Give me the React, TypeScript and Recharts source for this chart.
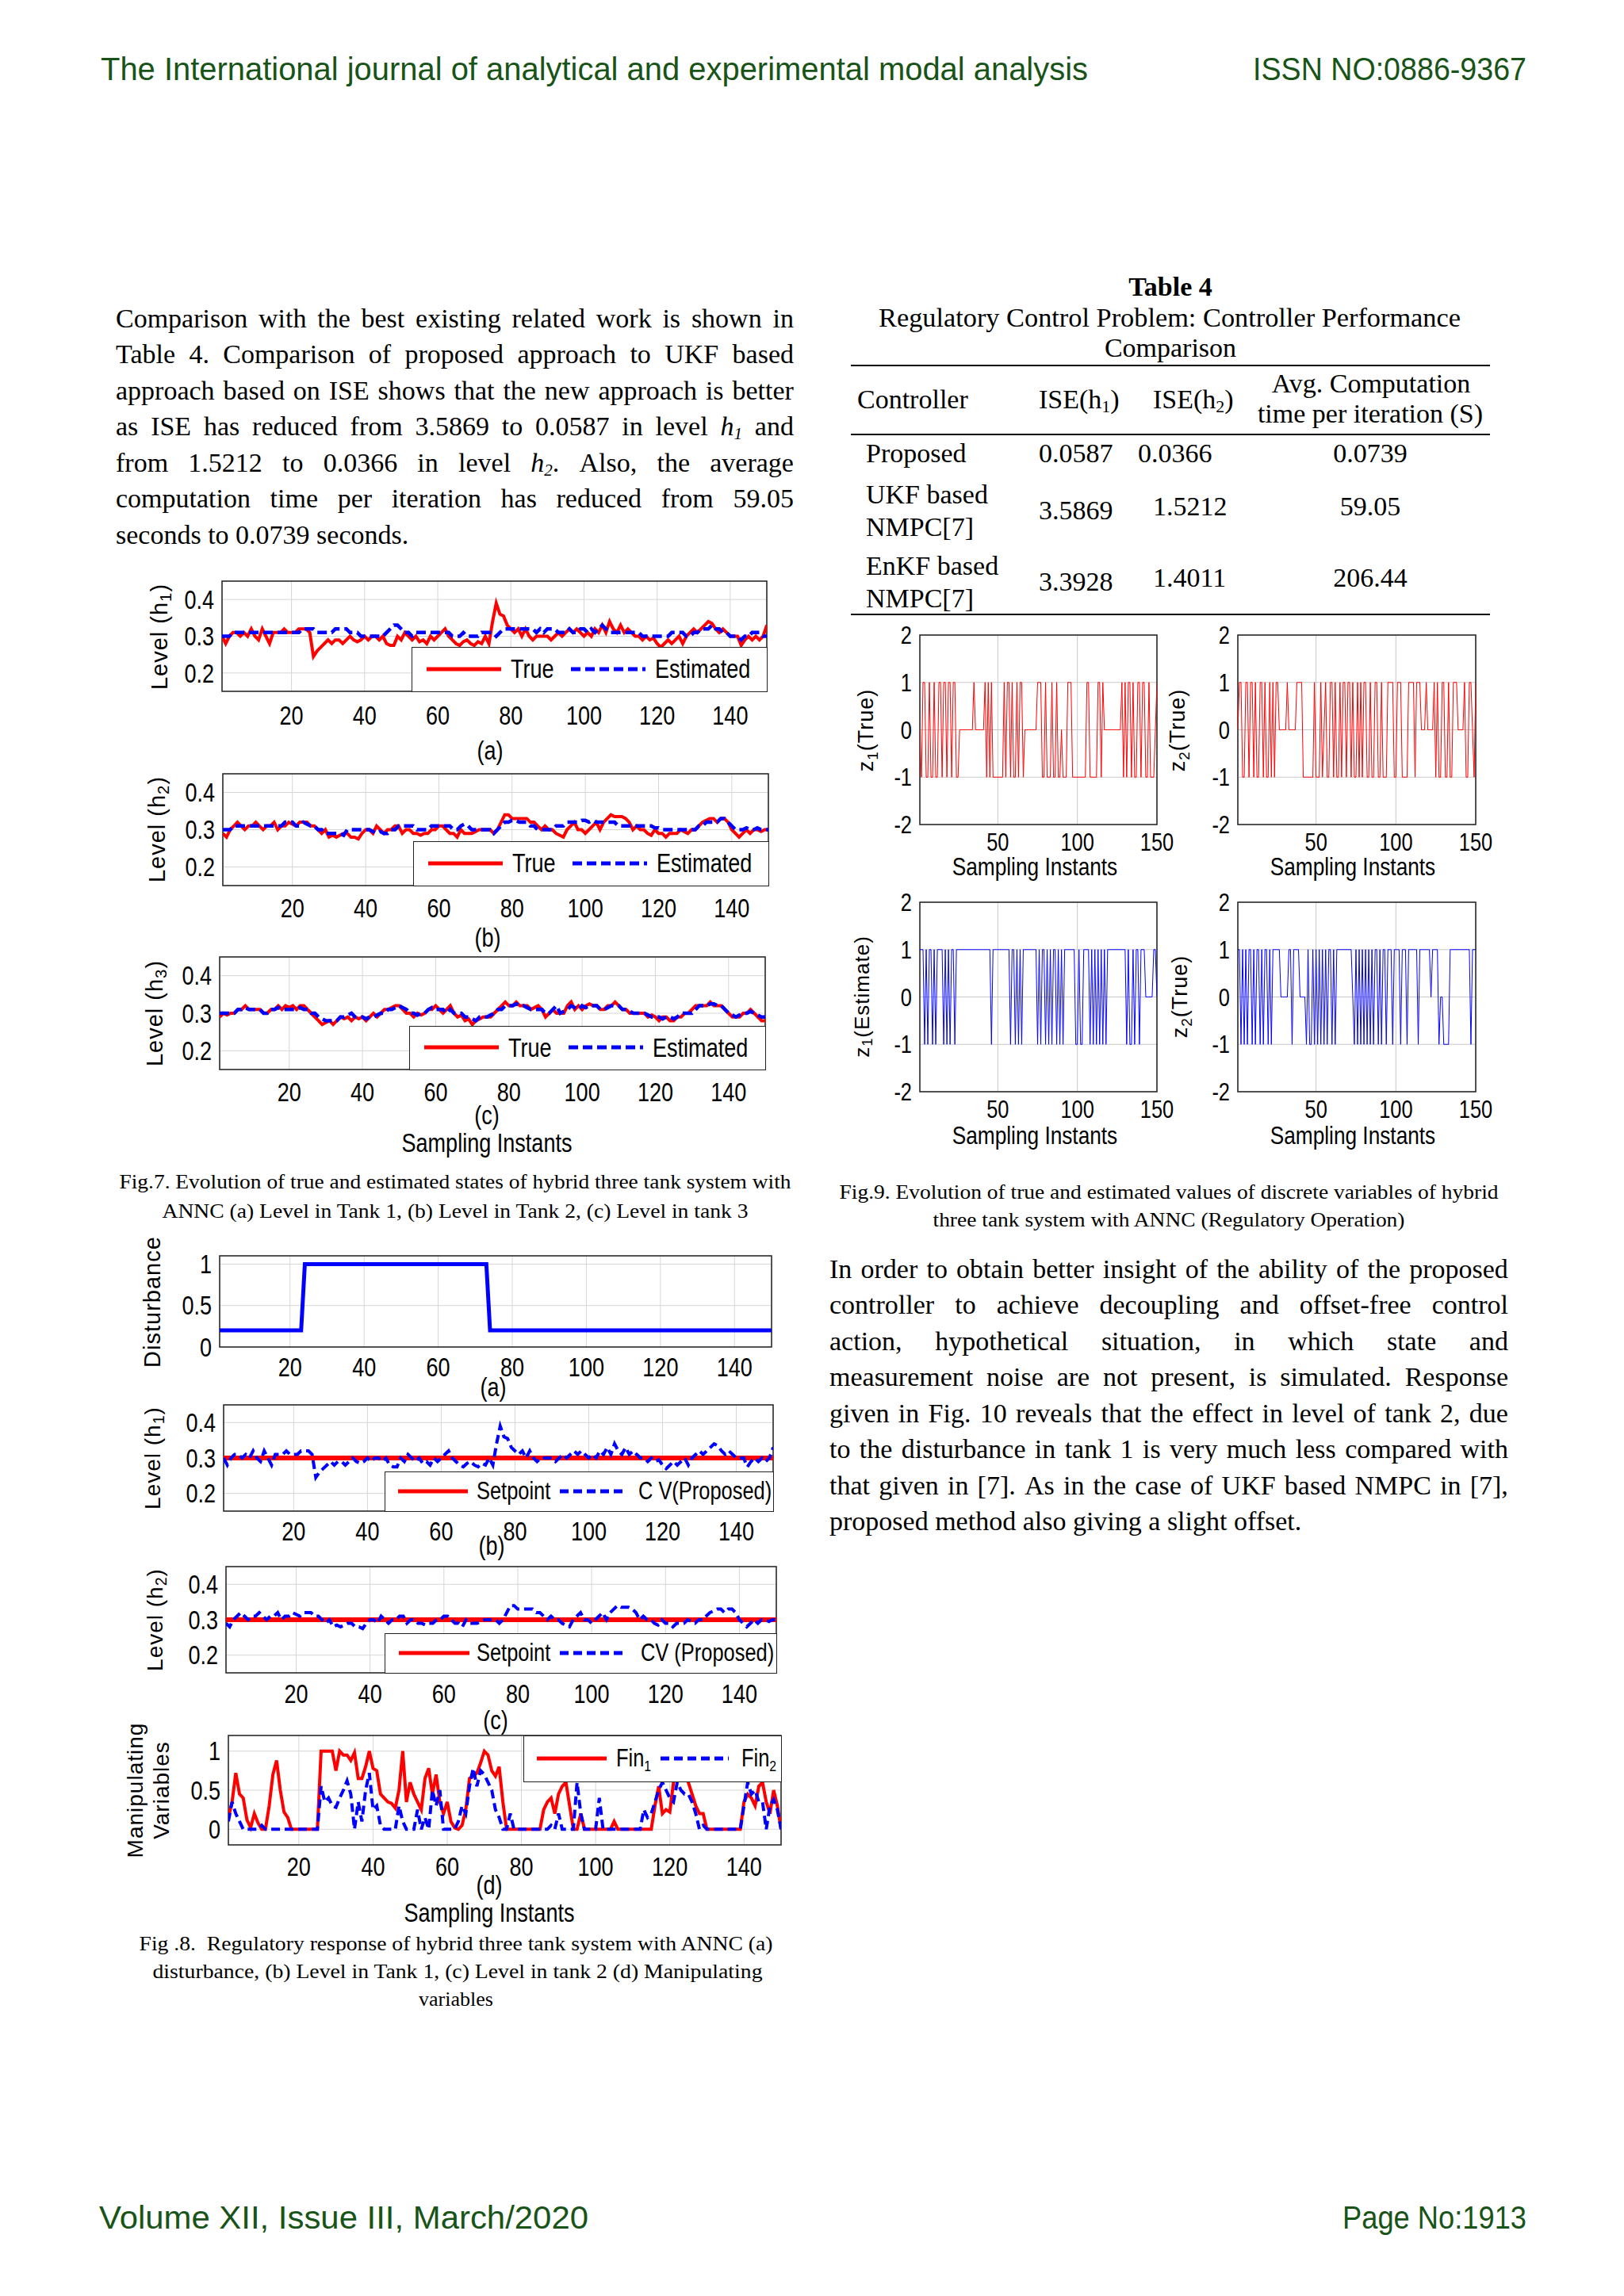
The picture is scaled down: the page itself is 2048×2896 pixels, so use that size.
import React from "react";
import { LineChart, Line, XAxis, YAxis, CartesianGrid, ReferenceArea, Legend } from "recharts";

const SERIF = '"Liberation Serif", "Times New Roman", Times, serif';
const SANS = '"Liberation Sans", Arial, Helvetica, sans-serif';
const GREEN = "#185418";
const RED = "#ff0000";
const BLUE = "#0000ff";
const SQUEEZE = 0.82; // the figures in the page are squeezed horizontally

// ---------- data ----------
const levelTicks = [0.2, 0.3, 0.4];
const sampleTicks = [20, 40, 60, 80, 100, 120, 140];
const unitTicks = [0, 0.5, 1];
const zTicks = [-2, -1, 0, 1, 2];
const zSampleTicks = [50, 100, 150];
const setpoint = 0.3;

const h1True = [
  0.30, 0.28, 0.30, 0.31, 0.31, 0.30, 0.31, 0.30, 0.32, 0.30,
  0.29, 0.32, 0.30, 0.28, 0.31, 0.31, 0.31, 0.32, 0.31, 0.31,
  0.31, 0.32, 0.32, 0.32, 0.31, 0.245, 0.26, 0.27, 0.28, 0.29,
  0.28, 0.29, 0.29, 0.28, 0.29, 0.30, 0.29, 0.285, 0.29, 0.30,
  0.29, 0.30, 0.30, 0.29, 0.30, 0.28, 0.275, 0.275, 0.30, 0.29,
  0.31, 0.30, 0.29, 0.30, 0.285, 0.29, 0.28, 0.30, 0.29, 0.30,
  0.31, 0.32, 0.30, 0.29, 0.28, 0.275, 0.285, 0.29, 0.28, 0.275,
  0.285, 0.28, 0.30, 0.28, 0.34, 0.39, 0.36, 0.355, 0.33, 0.32,
  0.31, 0.32, 0.30, 0.32, 0.30, 0.29, 0.30, 0.30, 0.30, 0.30,
  0.29, 0.30, 0.31, 0.30, 0.31, 0.32, 0.31, 0.32, 0.31, 0.30,
  0.31, 0.30, 0.32, 0.31, 0.33, 0.31, 0.34, 0.32, 0.31, 0.33,
  0.31, 0.32, 0.31, 0.30, 0.30, 0.29, 0.30, 0.29, 0.295, 0.28,
  0.27, 0.28, 0.29, 0.28, 0.29, 0.30, 0.28, 0.30, 0.31, 0.32,
  0.31, 0.32, 0.33, 0.34, 0.335, 0.32, 0.31, 0.32, 0.31, 0.30,
  0.30, 0.30, 0.275, 0.29, 0.30, 0.29, 0.30, 0.29, 0.30, 0.33,
];
const h1Est = [
  0.30, 0.30, 0.30, 0.31, 0.31, 0.31, 0.31, 0.31, 0.31, 0.31,
  0.31, 0.31, 0.31, 0.31, 0.31, 0.31, 0.31, 0.31, 0.31, 0.31,
  0.31, 0.31, 0.32, 0.32, 0.32, 0.32, 0.31, 0.31, 0.31, 0.31,
  0.31, 0.32, 0.32, 0.32, 0.32, 0.31, 0.31, 0.31, 0.30, 0.30,
  0.30, 0.30, 0.30, 0.30, 0.30, 0.31, 0.32, 0.33, 0.33, 0.32,
  0.31, 0.31, 0.30, 0.31, 0.31, 0.31, 0.31, 0.31, 0.31, 0.31,
  0.31, 0.31, 0.31, 0.30, 0.30, 0.30, 0.31, 0.30, 0.30, 0.30,
  0.30, 0.31, 0.31, 0.31, 0.31, 0.30, 0.31, 0.32, 0.32, 0.32,
  0.32, 0.32, 0.32, 0.32, 0.32, 0.32, 0.31, 0.32, 0.31, 0.32,
  0.32, 0.32, 0.31, 0.31, 0.31, 0.32, 0.31, 0.31, 0.32, 0.32,
  0.31, 0.32, 0.31, 0.32, 0.33, 0.32, 0.31, 0.31, 0.31, 0.31,
  0.31, 0.31, 0.31, 0.31, 0.31, 0.30, 0.30, 0.30, 0.30, 0.30,
  0.30, 0.30, 0.30, 0.31, 0.31, 0.31, 0.31, 0.30, 0.30, 0.31,
  0.31, 0.32, 0.32, 0.32, 0.33, 0.32, 0.32, 0.31, 0.31, 0.30,
  0.30, 0.30, 0.29, 0.30, 0.30, 0.31, 0.31, 0.31, 0.30, 0.30,
];
const h2True = [
  0.29, 0.28, 0.30, 0.31, 0.32, 0.31, 0.30, 0.31, 0.31, 0.32,
  0.31, 0.30, 0.31, 0.31, 0.32, 0.30, 0.31, 0.31, 0.32, 0.315,
  0.31, 0.32, 0.32, 0.32, 0.31, 0.31, 0.30, 0.29, 0.30, 0.28,
  0.285, 0.28, 0.285, 0.29, 0.29, 0.28, 0.28, 0.275, 0.29, 0.30,
  0.30, 0.29, 0.31, 0.30, 0.29, 0.30, 0.30, 0.31, 0.31, 0.29,
  0.30, 0.30, 0.29, 0.29, 0.285, 0.29, 0.29, 0.30, 0.30, 0.31,
  0.31, 0.30, 0.29, 0.29, 0.28, 0.30, 0.29, 0.29, 0.29, 0.295,
  0.30, 0.30, 0.30, 0.30, 0.29, 0.30, 0.32, 0.34, 0.34, 0.33,
  0.33, 0.33, 0.33, 0.33, 0.32, 0.32, 0.31, 0.30, 0.31, 0.30,
  0.30, 0.29, 0.285, 0.28, 0.30, 0.31, 0.32, 0.30, 0.30, 0.29,
  0.30, 0.31, 0.32, 0.30, 0.32, 0.33, 0.34, 0.335, 0.335, 0.335,
  0.33, 0.32, 0.30, 0.31, 0.30, 0.30, 0.29, 0.285, 0.30, 0.29,
  0.29, 0.28, 0.29, 0.29, 0.29, 0.30, 0.295, 0.29, 0.30, 0.30,
  0.31, 0.32, 0.325, 0.33, 0.33, 0.32, 0.33, 0.33, 0.32, 0.30,
  0.29, 0.28, 0.29, 0.30, 0.29, 0.30, 0.30, 0.295, 0.30, 0.30,
];
const h2Est = [
  0.30, 0.30, 0.30, 0.31, 0.31, 0.31, 0.31, 0.31, 0.31, 0.31,
  0.31, 0.31, 0.31, 0.31, 0.31, 0.31, 0.31, 0.32, 0.32, 0.32,
  0.31, 0.31, 0.32, 0.315, 0.31, 0.31, 0.30, 0.30, 0.29, 0.29,
  0.29, 0.29, 0.29, 0.285, 0.30, 0.30, 0.30, 0.30, 0.30, 0.30,
  0.30, 0.295, 0.29, 0.295, 0.29, 0.29, 0.30, 0.30, 0.31, 0.31,
  0.31, 0.31, 0.31, 0.30, 0.30, 0.30, 0.30, 0.31, 0.31, 0.31,
  0.31, 0.31, 0.31, 0.30, 0.30, 0.31, 0.315, 0.31, 0.30, 0.30,
  0.30, 0.30, 0.30, 0.30, 0.29, 0.30, 0.31, 0.32, 0.32, 0.325,
  0.325, 0.32, 0.32, 0.32, 0.31, 0.31, 0.30, 0.30, 0.30, 0.30,
  0.30, 0.31, 0.31, 0.31, 0.32, 0.32, 0.32, 0.32, 0.325, 0.325,
  0.32, 0.325, 0.32, 0.32, 0.32, 0.32, 0.32, 0.32, 0.31, 0.31,
  0.31, 0.31, 0.31, 0.31, 0.31, 0.31, 0.31, 0.31, 0.305, 0.305,
  0.30, 0.30, 0.30, 0.30, 0.30, 0.30, 0.30, 0.30, 0.30, 0.30,
  0.31, 0.31, 0.32, 0.32, 0.32, 0.32, 0.33, 0.33, 0.32, 0.31,
  0.30, 0.30, 0.30, 0.305, 0.30, 0.30, 0.305, 0.30, 0.30, 0.30,
];
const h3True = [
  0.29, 0.30, 0.295, 0.30, 0.30, 0.31, 0.31, 0.32, 0.31, 0.31,
  0.31, 0.31, 0.30, 0.30, 0.31, 0.31, 0.32, 0.31, 0.32, 0.315,
  0.32, 0.31, 0.32, 0.32, 0.31, 0.30, 0.29, 0.28, 0.27, 0.275,
  0.28, 0.27, 0.28, 0.29, 0.285, 0.29, 0.28, 0.29, 0.285, 0.29,
  0.28, 0.29, 0.30, 0.29, 0.30, 0.31, 0.31, 0.315, 0.32, 0.32,
  0.31, 0.30, 0.30, 0.29, 0.30, 0.295, 0.30, 0.31, 0.31, 0.32,
  0.31, 0.30, 0.31, 0.32, 0.30, 0.29, 0.295, 0.28, 0.285, 0.27,
  0.28, 0.285, 0.29, 0.29, 0.29, 0.30, 0.31, 0.32, 0.33, 0.32,
  0.32, 0.33, 0.32, 0.32, 0.32, 0.31, 0.315, 0.32, 0.31, 0.29,
  0.30, 0.31, 0.30, 0.30, 0.30, 0.32, 0.33, 0.31, 0.32, 0.31,
  0.32, 0.325, 0.32, 0.32, 0.31, 0.31, 0.32, 0.32, 0.33, 0.32,
  0.31, 0.31, 0.30, 0.30, 0.30, 0.30, 0.30, 0.29, 0.295, 0.29,
  0.28, 0.29, 0.29, 0.28, 0.28, 0.29, 0.29, 0.30, 0.30, 0.31,
  0.32, 0.32, 0.32, 0.32, 0.33, 0.32, 0.32, 0.32, 0.31, 0.30,
  0.29, 0.29, 0.29, 0.30, 0.30, 0.31, 0.30, 0.29, 0.28, 0.28,
];
const h3Est = [
  0.30, 0.30, 0.30, 0.30, 0.30, 0.31, 0.31, 0.315, 0.31, 0.31,
  0.31, 0.31, 0.30, 0.30, 0.31, 0.31, 0.315, 0.31, 0.31, 0.31,
  0.31, 0.31, 0.315, 0.31, 0.31, 0.30, 0.30, 0.29, 0.285, 0.28,
  0.28, 0.28, 0.28, 0.29, 0.29, 0.295, 0.30, 0.29, 0.29, 0.29,
  0.285, 0.29, 0.29, 0.295, 0.30, 0.30, 0.31, 0.31, 0.315, 0.32,
  0.315, 0.31, 0.30, 0.30, 0.295, 0.30, 0.30, 0.31, 0.315, 0.31,
  0.31, 0.31, 0.30, 0.31, 0.30, 0.30, 0.30, 0.29, 0.29, 0.285,
  0.28, 0.29, 0.29, 0.29, 0.295, 0.30, 0.31, 0.31, 0.32, 0.32,
  0.32, 0.325, 0.32, 0.32, 0.315, 0.31, 0.31, 0.31, 0.31, 0.30,
  0.30, 0.31, 0.32, 0.30, 0.305, 0.31, 0.32, 0.315, 0.31, 0.32,
  0.315, 0.32, 0.32, 0.32, 0.31, 0.31, 0.315, 0.32, 0.32, 0.32,
  0.31, 0.31, 0.305, 0.30, 0.30, 0.30, 0.30, 0.295, 0.29, 0.29,
  0.29, 0.285, 0.29, 0.29, 0.285, 0.29, 0.30, 0.30, 0.30, 0.30,
  0.31, 0.32, 0.32, 0.32, 0.325, 0.325, 0.32, 0.32, 0.31, 0.30,
  0.295, 0.29, 0.295, 0.30, 0.30, 0.305, 0.30, 0.295, 0.29, 0.29,
];
// regulatory run: the controlled levels are the same traces as the true states
const h1Cv = h1True;
const h2Cv = h2True;

const disturbance = [
  0.2, 0.2, 0.2, 0.2, 0.2, 0.2, 0.2, 0.2, 0.2, 0.2,
  0.2, 0.2, 0.2, 0.2, 0.2, 0.2, 0.2, 0.2, 0.2, 0.2,
  0.2, 0.2, 0.2, 1, 1, 1, 1, 1, 1, 1,
  1, 1, 1, 1, 1, 1, 1, 1, 1, 1,
  1, 1, 1, 1, 1, 1, 1, 1, 1, 1,
  1, 1, 1, 1, 1, 1, 1, 1, 1, 1,
  1, 1, 1, 1, 1, 1, 1, 1, 1, 1,
  1, 1, 1, 0.2, 0.2, 0.2, 0.2, 0.2, 0.2, 0.2,
  0.2, 0.2, 0.2, 0.2, 0.2, 0.2, 0.2, 0.2, 0.2, 0.2,
  0.2, 0.2, 0.2, 0.2, 0.2, 0.2, 0.2, 0.2, 0.2, 0.2,
  0.2, 0.2, 0.2, 0.2, 0.2, 0.2, 0.2, 0.2, 0.2, 0.2,
  0.2, 0.2, 0.2, 0.2, 0.2, 0.2, 0.2, 0.2, 0.2, 0.2,
  0.2, 0.2, 0.2, 0.2, 0.2, 0.2, 0.2, 0.2, 0.2, 0.2,
  0.2, 0.2, 0.2, 0.2, 0.2, 0.2, 0.2, 0.2, 0.2, 0.2,
  0.2, 0.2, 0.2, 0.2, 0.2, 0.2, 0.2, 0.2, 0.2, 0.2,
];
const fin1 = [
  0.15, 0.35, 0.72, 0.45, 0.40, 0.12, 0.02, 0.20, 0.08, 0,
  0, 0.30, 0.70, 0.88, 0.50, 0.22, 0.15, 0, 0, 0,
  0, 0, 0, 0, 0, 1, 1, 1, 1, 0.75,
  1, 0.95, 0.95, 0.88, 0.98, 0.65, 0.65, 0.80, 1, 0.78,
  0.75, 0.45, 0.40, 0.35, 0.33, 0.27, 0.50, 1, 0.35, 0.60,
  0.45, 0.35, 0.25, 0.65, 0.78, 0.45, 0.70, 0.35, 0.20, 0.35,
  0.10, 0.02, 0, 0.05, 0.25, 0.65, 0.68, 0.72, 0.85, 1,
  0.95, 0.75, 0.68, 0.80, 0.35, 0, 0, 0, 0, 0,
  0, 0, 0, 0, 0, 0.25, 0.35, 0.40, 0.20, 0.45,
  0.55, 0.60, 0.30, 0, 0, 0.20, 0, 0, 0, 0,
  0, 0, 0, 0, 0.10, 0, 0, 0, 0, 0,
  0, 0, 0, 0, 0, 0.30, 0.55, 0.20, 0.25, 0.22,
  0.60, 0.75, 0.80, 0.70, 0.60, 0.45, 0.30, 0.20, 0.20, 0,
  0, 0, 0, 0, 0, 0, 0, 0, 0, 0.35,
  0.45, 0.40, 0.30, 0.55, 0.60, 0.35, 0.20, 0.50, 0.30, 0,
];
const fin2 = [
  0.10, 0.35, 0.20, 0.10, 0, 0, 0, 0, 0, 0.05,
  0, 0, 0, 0, 0, 0, 0, 0, 0, 0,
  0, 0, 0, 0, 0, 0.55, 0.35, 0.40, 0.30, 0.28,
  0.40, 0.50, 0.62, 0.45, 0, 0.35, 0.10, 0.50, 0.72, 0.25,
  0.30, 0.05, 0, 0, 0, 0, 0.30, 0.10, 0, 0,
  0, 0.25, 0, 0.15, 0, 0.50, 0.30, 0.50, 0, 0,
  0, 0, 0.10, 0.30, 0.20, 0.55, 0.78, 0.55, 0.75, 0.70,
  0.60, 0.50, 0.25, 0.15, 0, 0, 0.20, 0, 0, 0,
  0, 0, 0, 0, 0, 0, 0, 0.05, 0, 0.20,
  0, 0, 0, 0, 0.60, 0.20, 0, 0, 0, 0,
  0.40, 0, 0, 0, 0, 0, 0, 0, 0, 0,
  0, 0, 0.25, 0.15, 0.20, 0.35, 0.50, 0.60, 0.50, 0.40,
  0.35, 0.60, 0.50, 0.45, 0.45, 0.35, 0.20, 0, 0.05, 0,
  0, 0, 0, 0, 0, 0, 0, 0, 0, 0.30,
  0.60, 0.45, 0.50, 0.35, 0.35, 0, 0.30, 0.38, 0.25, 0,
];

const z1True = [
  0, -1, 1, 1, -1, -1, 1, -1, -1, 1,
  -1, -1, 1, 1, -1, 1, 1, -1, 1, 1,
  -1, 1, 1, -1, -1, 0, 0, 0, 0, 0,
  0, 0, 0, 0, 1, 0, 0, 0, 0, 0,
  0, 1, -1, 1, -1, 1, -1, -1, -1, -1,
  -1, -1, -1, 1, -1, 1, 1, -1, 1, -1,
  -1, 1, -1, 1, 1, -1, 0, 0, 0, 0,
  0, 0, 0, 0, 1, 1, 1, -1, -1, 1,
  -1, -1, -1, 1, -1, -1, 1, -1, -1, 0,
  -1, -1, -1, 1, 1, 1, -1, -1, -1, -1,
  -1, -1, -1, -1, -1, 1, 1, -1, -1, -1,
  -1, -1, 1, 1, -1, 1, 0, 0, 0, 0,
  0, 0, 0, 0, 0, 0, 0, 1, -1, 1,
  -1, 1, 1, -1, 1, -1, -1, 1, 1, -1,
  1, 1, -1, -1, 1, -1, -1, -1, 0, 1,
];
const z2True = [
  0, 1, 1, -1, -1, 1, 1, -1, 1, 1,
  -1, 1, -1, -1, 1, 1, -1, 1, -1, -1,
  1, -1, 1, -1, 1, 1, 0, 0, 0, 0,
  0, 1, 0, 0, 0, 0, 0, 1, 1, 1,
  1, -1, -1, -1, -1, -1, -1, -1, 1, -1,
  -1, -1, 1, -1, 0, 1, -1, -1, 1, 1,
  -1, 1, -1, -1, 1, -1, 1, 1, -1, 1,
  1, -1, 1, -1, -1, 1, -1, 1, -1, 1,
  1, -1, -1, 1, -1, -1, 1, 1, -1, -1,
  1, -1, -1, -1, 1, 1, 1, 1, -1, -1,
  1, 1, 1, -1, -1, -1, -1, 1, 1, 1,
  1, -1, 1, 1, 1, 0, 0, 0, 1, 0,
  0, 0, 0, 1, -1, 1, -1, -1, 1, 1,
  -1, -1, 1, -1, -1, 1, 1, 1, 0, 0,
  0, 0, 1, -1, -1, 1, 1, 0, -1, 1,
];
const z1Est = [
  1, 1, 1, -1, 1, -1, 1, 1, -1, 1,
  -1, 1, 1, 1, 1, -1, 1, -1, 1, -1,
  1, 1, -1, 1, 1, 1, 1, 1, 1, 1,
  1, 1, 1, 1, 1, 1, 1, 1, 1, 1,
  1, 1, 1, 1, 1, -1, 1, 1, 1, 1,
  1, 1, 1, 1, 1, 1, 1, -1, 1, 1,
  -1, 1, -1, 1, -1, 1, 1, 1, 1, 1,
  1, 1, 1, 1, -1, 1, -1, 1, 1, -1,
  1, -1, 1, -1, 1, 1, -1, 1, -1, 1,
  -1, 1, 1, 1, 1, 1, 1, 1, -1, -1,
  1, -1, -1, 1, 1, 1, 1, -1, 1, -1,
  1, -1, 1, -1, 1, -1, 1, -1, 1, 1,
  1, 1, 1, 1, 1, 1, 1, 1, 1, 1,
  -1, 1, -1, -1, 1, -1, 1, 1, -1, 1,
  1, 1, 0, 0, 0, 0, 0, 1, 1, 0,
];
const z2Est = [
  1, 1, -1, 1, -1, 1, -1, 1, 1, -1,
  1, -1, 1, 1, -1, 1, -1, 1, 1, -1,
  1, -1, 1, 1, 1, 1, 1, 0, 0, 0,
  0, 0, 1, 1, -1, 1, 1, 1, 1, 0,
  0, 0, 0, -1, 1, -1, -1, 1, -1, 1,
  -1, 1, -1, 1, -1, 1, -1, 1, 1, -1,
  1, -1, 1, 1, 1, 1, 1, 1, 1, 1,
  1, 1, 0, -1, 1, -1, 1, -1, 1, -1,
  1, -1, 1, -1, 1, -1, 1, 1, -1, 1,
  -1, 1, 1, -1, 1, 1, 1, -1, 1, 1,
  1, 1, -1, 1, 1, 1, -1, 1, 1, 1,
  1, 1, 1, -1, 1, 1, 1, 1, 1, 1,
  1, 0, 1, 1, 1, 1, -1, 0, 0, -1,
  -1, -1, -1, 1, 1, 1, 1, 1, 1, 1,
  1, 1, 1, 1, 1, 1, -1, 1, 1, 1,
];

// ---------- page text ----------
const para1 = [
  "Comparison with the best existing related work is shown in",
  "Table 4. Comparison of proposed approach to UKF based",
  "approach based on ISE shows that the new approach is better",
  "as ISE has reduced from 3.5869 to 0.0587 in level h_1 and",
  "from 1.5212 to 0.0366 in level h_2. Also, the average",
  "computation time per iteration has reduced from 59.05",
  "seconds to 0.0739 seconds.",
];
const para2 = [
  "In order to obtain better insight of the ability of the proposed",
  "controller to achieve decoupling and offset-free control",
  "action, hypothetical situation, in which state and",
  "measurement noise are not present, is simulated. Response",
  "given in Fig. 10 reveals that the effect in level of tank 2, due",
  "to the disturbance in tank 1 is very much less compared with",
  "that given in [7]. As in the case of UKF based NMPC in [7],",
  "proposed method also giving a slight offset.",
];
const tableControllers = [["Proposed"], ["UKF based", "NMPC[7]"], ["EnKF based", "NMPC[7]"]];
const tableIse1 = ["0.0587", "3.5869", "3.3928"];
const tableIse2 = ["0.0366", "1.5212", "1.4011"];
const tableTime = ["0.0739", "59.05", "206.44"];

// ---------- chart pieces ----------
type Series = { key: string; name: string; color: string; width: number; dash?: string };
type LegendSpec = { left: number; top: number; width: number; height: number; font: number; items: number[][] };

const PAD_L = 90;
const PAD_R = 36;
const PAD_T = 22;
const PAD_B = 60;

function SubLabel({ label }: { label: string }) {
  const [base, sub] = label.split("_");
  return (
    <>
      {base}
      {sub && <sub style={{ fontSize: "0.62em", verticalAlign: "-0.3em" }}>{sub}</sub>}
    </>
  );
}

// tick text drawn with a horizontal squeeze, like the squeezed figures of the page
function SqueezedTick(props: any) {
  const { x, y, payload, textAnchor, fontSize, side } = props;
  const dy = side === "x" ? "0.71em" : "0.355em";
  return (
    <text
      x={x}
      y={y}
      dy={dy}
      textAnchor={textAnchor}
      fontSize={fontSize}
      fontFamily={SANS}
      fill="#000"
      transform={`translate(${x} ${y}) scale(${SQUEEZE} 1) translate(${-x} ${-y})`}
    >
      {payload.value}
    </text>
  );
}

function LegendBox({ spec, series }: { spec: LegendSpec; series: Series[] }) {
  return (
    <div
      style={{
        position: "relative",
        width: spec.width,
        height: spec.height,
        boxSizing: "border-box",
        background: "#fff",
        border: "1.5px solid #222",
      }}
    >
      {series.map((s, i) => {
        const [x0, x1, tx] = spec.items[i];
        return (
          <React.Fragment key={s.key}>
            <svg
              width={x1 - x0}
              height={12}
              style={{ position: "absolute", left: x0, top: spec.height / 2 - 8 }}
            >
              <line x1={0} x2={x1 - x0} y1={6} y2={6} stroke={s.color} strokeWidth={5} strokeDasharray={s.dash} />
            </svg>
            <span
              style={{
                position: "absolute",
                left: tx,
                top: 0,
                lineHeight: `${spec.height - 3}px`,
                fontSize: spec.font,
                fontFamily: SANS,
                whiteSpace: "nowrap",
                transform: `scaleX(${SQUEEZE})`,
                transformOrigin: "left center",
              }}
            >
              <SubLabel label={s.name} />
            </span>
          </React.Fragment>
        );
      })}
    </div>
  );
}

function Panel({
  L, R, T, B, data, series, yDomain, yTicks, xTicks, font, xGap, grid = "#d6d6d6", legend,
}: {
  L: number; R: number; T: number; B: number;
  data: Record<string, number>[]; series: Series[];
  yDomain: [number, number]; yTicks: number[]; xTicks: number[];
  font: number; xGap: number; grid?: string; legend?: LegendSpec;
}) {
  const w = R - L + PAD_L + PAD_R;
  const h = B - T + PAD_T + PAD_B;
  const ox = L - PAD_L;
  const oy = T - PAD_T;
  return (
    <div style={{ position: "absolute", left: ox, top: oy, width: w, height: h }}>
      <LineChart width={w} height={h} data={data} margin={{ top: PAD_T, right: PAD_R, left: 0, bottom: 0 }}>
        <CartesianGrid stroke={grid} strokeWidth={1} />
        <XAxis
          dataKey="k"
          type="number"
          domain={[1, 150]}
          ticks={xTicks}
          interval={0}
          allowDataOverflow
          axisLine={false}
          tickLine={false}
          tickSize={0}
          tickMargin={xGap}
          height={PAD_B}
          tick={<SqueezedTick side="x" fontSize={font} />}
        />
        <YAxis
          type="number"
          domain={yDomain}
          ticks={yTicks}
          interval={0}
          allowDataOverflow
          axisLine={false}
          tickLine={false}
          tickSize={0}
          tickMargin={10}
          width={PAD_L}
          tick={<SqueezedTick side="y" fontSize={font} />}
        />
        {series.map((s) => (
          <Line
            key={s.key}
            type="linear"
            dataKey={s.key}
            name={s.name}
            stroke={s.color}
            strokeWidth={s.width}
            strokeDasharray={s.dash}
            dot={false}
            activeDot={false}
            isAnimationActive={false}
          />
        ))}
        <ReferenceArea
          x1={1}
          x2={150}
          y1={yDomain[0]}
          y2={yDomain[1]}
          fill="none"
          stroke="#222"
          strokeWidth={1.5}
          ifOverflow="visible"
        />
        {legend && (
          <Legend
            layout="horizontal"
            verticalAlign="middle"
            align="center"
            wrapperStyle={{
              left: legend.left - ox,
              top: legend.top - oy,
              width: legend.width,
              height: legend.height,
              margin: 0,
              padding: 0,
            }}
            content={() => <LegendBox spec={legend} series={series} />}
          />
        )}
      </LineChart>
    </div>
  );
}

function RotLabel({ x, y, size, text, sub, tail }: { x: number; y: number; size: number; text: string; sub?: string; tail?: string }) {
  return (
    <text
      x={x}
      y={y}
      transform={`rotate(-90 ${x} ${y})`}
      textAnchor="middle"
      dominantBaseline="central"
      fontFamily={SANS}
      fontSize={size}
      letterSpacing={1}
    >
      {text}
      {sub && (
        <tspan dy={size * 0.28} fontSize={size * 0.7}>
          {sub}
        </tspan>
      )}
      {tail && <tspan dy={sub ? -size * 0.28 : 0}>{tail}</tspan>}
    </text>
  );
}

// centred, horizontally squeezed sans text
function SqText({ x, y, size, children }: { x: number; y: number; size: number; children: React.ReactNode }) {
  return (
    <text
      x={x}
      y={y}
      transform={`translate(${x} ${y}) scale(${SQUEEZE} 1) translate(${-x} ${-y})`}
      textAnchor="middle"
      dominantBaseline="central"
      fontFamily={SANS}
      fontSize={size}
      fill="#000"
    >
      {children}
    </text>
  );
}

function Word({ w }: { w: string }) {
  if (w.startsWith("h_")) {
    return (
      <span>
        <i>
          h<sub style={{ fontSize: "0.62em", verticalAlign: "-0.25em" }}>{w[2]}</sub>
        </i>
        {w.slice(3)}
      </span>
    );
  }
  return <span>{w}</span>;
}

function Paragraph({ lines, left, width, base }: { lines: string[]; left: number; width: number; base: number }) {
  return (
    <>
      {lines.map((ln, i) => {
        const last = i === lines.length - 1;
        return (
          <div
            key={i}
            style={{
              position: "absolute",
              left,
              top: base + i * 45.5 - 28.5,
              width,
              height: 34,
              fontFamily: SERIF,
              fontSize: 34,
              lineHeight: "34px",
              display: "flex",
              alignItems: "baseline",
              justifyContent: last ? "flex-start" : "space-between",
              whiteSpace: "pre",
              color: "#000",
            }}
          >
            {last ? <span>{ln}</span> : ln.split(" ").map((w, j) => <Word key={j} w={w} />)}
          </div>
        );
      })}
    </>
  );
}

const trueEst: Series[] = [
  { key: "tru", name: "True", color: RED, width: 4 },
  { key: "est", name: "Estimated", color: BLUE, width: 4.5, dash: "12 6" },
];
const spCv = (name: string): Series[] => [
  { key: "sp", name: "Setpoint", color: RED, width: 6 },
  { key: "cv", name, color: BLUE, width: 4, dash: "11 6" },
];
const finSeries: Series[] = [
  { key: "f1", name: "Fin_1", color: RED, width: 4 },
  { key: "f2", name: "Fin_2", color: BLUE, width: 4, dash: "11 6" },
];

const pair = (a: number[], b: number[]) => a.map((v, i) => ({ k: i + 1, tru: v, est: b[i] }));
const single = (a: number[]) => a.map((v, i) => ({ k: i + 1, z: v }));

export default function App() {
  const levelDomain: [number, number] = [0.15, 0.45];
  const zDomain: [number, number] = [-2, 2];
  const t7 = [[18, 112, 124], [200, 294, 306]];
  const t8 = [[16, 104, 115], [220, 303, 319]];
  return (
    <div style={{ position: "absolute", left: 0, top: 0, width: 2048, height: 2896, background: "#fff", overflow: "hidden" }}>
      <svg width={2048} height={2896} style={{ position: "absolute", left: 0, top: 0 }}>
        {/* header / footer */}
        <g fill={GREEN} fontFamily={SANS} fontSize={41}>
          <text x={127} y={101} textLength={1245} lengthAdjust="spacingAndGlyphs">
            The International journal of analytical and experimental modal analysis
          </text>
          <text x={1580} y={101} textLength={345} lengthAdjust="spacingAndGlyphs">ISSN NO:0886-9367</text>
          <text x={125} y={2811} textLength={617} lengthAdjust="spacingAndGlyphs">Volume XII, Issue III, March/2020</text>
          <text x={1693} y={2811} textLength={232} lengthAdjust="spacingAndGlyphs">Page No:1913</text>
        </g>

        {/* table 4 */}
        <g fontFamily={SERIF} fontSize={34} fill="#000">
          <text x={1476} y={373} textAnchor="middle" fontWeight="bold">Table 4</text>
          <text x={1475} y={412} textAnchor="middle" textLength={734} lengthAdjust="spacingAndGlyphs">
            Regulatory Control Problem: Controller Performance
          </text>
          <text x={1476} y={450} textAnchor="middle">Comparison</text>
          <line x1={1073} x2={1879} y1={461} y2={461} stroke="#000" strokeWidth={2} />
          <text x={1081} y={515}>Controller</text>
          <text x={1310} y={515}>
            ISE(h<tspan fontSize={22} dy={5}>1</tspan>
            <tspan dy={-5}>)</tspan>
          </text>
          <text x={1454} y={515}>
            ISE(h<tspan fontSize={22} dy={5}>2</tspan>
            <tspan dy={-5}>)</tspan>
          </text>
          <text x={1729} y={495} textAnchor="middle">Avg. Computation</text>
          <text x={1728} y={533} textAnchor="middle">time per iteration (S)</text>
          <line x1={1073} x2={1879} y1={548} y2={548} stroke="#000" strokeWidth={2} />
          {tableControllers.map((names, r) => {
            const base = [583, 635, 725][r];
            const mid = [583, 655, 745][r];
            const mid2 = [583, 650, 740][r];
            return (
              <g key={r}>
                {names.map((n, j) => (
                  <text key={j} x={1092} y={base + j * 41}>{n}</text>
                ))}
                <text x={1310} y={mid}>{tableIse1[r]}</text>
                <text x={r === 0 ? 1435 : 1454} y={mid2}>{tableIse2[r]}</text>
                <text x={1728} y={mid2} textAnchor="middle">{tableTime[r]}</text>
              </g>
            );
          })}
          <line x1={1073} x2={1879} y1={775} y2={775} stroke="#000" strokeWidth={2} />
        </g>

        {/* axis titles and sub-captions */}
        <SqText x={618} y={947} size={33}>(a)</SqText>
        <SqText x={615} y={1183} size={33}>(b)</SqText>
        <SqText x={614} y={1407} size={33}>(c)</SqText>
        <SqText x={614} y={1442} size={33}>Sampling Instants</SqText>
        <SqText x={622} y={1750} size={33}>(a)</SqText>
        <SqText x={620} y={1950} size={33}>(b)</SqText>
        <SqText x={625} y={2170} size={33}>(c)</SqText>
        <SqText x={617} y={2378} size={33}>(d)</SqText>
        <SqText x={617} y={2413} size={33}>Sampling Instants</SqText>
        <SqText x={1305} y={1093} size={32}>Sampling Instants</SqText>
        <SqText x={1706} y={1093} size={32}>Sampling Instants</SqText>
        <SqText x={1305} y={1432} size={32}>Sampling Instants</SqText>
        <SqText x={1706} y={1432} size={32}>Sampling Instants</SqText>

        <RotLabel x={201} y={803} size={29} text="Level (h" sub="1" tail=")" />
        <RotLabel x={198} y={1046} size={29} text="Level (h" sub="2" tail=")" />
        <RotLabel x={195} y={1278} size={29} text="Level (h" sub="3" tail=")" />
        <RotLabel x={192} y={1642} size={29} text="Disturbance" />
        <RotLabel x={192} y={1839} size={28} text="Level (h" sub="1" tail=")" />
        <RotLabel x={195} y={2043} size={28} text="Level (h" sub="2" tail=")" />
        <RotLabel x={170} y={2258} size={28} text="Manipulating" />
        <RotLabel x={203} y={2258} size={28} text="Variables" />
        <RotLabel x={1092} y={921} size={27} text="z" sub="1" tail="(True)" />
        <RotLabel x={1485} y={921} size={27} text="z" sub="2" tail="(True)" />
        <RotLabel x={1087} y={1257} size={26} text="z" sub="1" tail="(Estimate)" />
        <RotLabel x={1488} y={1257} size={27} text="z" sub="2" tail="(True)" />

        {/* figure captions */}
        <g fontFamily={SERIF} fontSize={26} fill="#000" textAnchor="middle">
          <text x={574} y={1499} textLength={847} lengthAdjust="spacingAndGlyphs">
            Fig.7. Evolution of true and estimated states of hybrid three tank system with
          </text>
          <text x={574} y={1536} textLength={739} lengthAdjust="spacingAndGlyphs">
            ANNC (a) Level in Tank 1, (b) Level in Tank 2, (c) Level in tank 3
          </text>
          <text x={1474} y={1512} textLength={831} lengthAdjust="spacingAndGlyphs">
            Fig.9. Evolution of true and estimated values of discrete variables of hybrid
          </text>
          <text x={1474} y={1547} textLength={595} lengthAdjust="spacingAndGlyphs">
            three tank system with ANNC (Regulatory Operation)
          </text>
          <text x={575} y={2460} textLength={799} lengthAdjust="spacingAndGlyphs" style={{ whiteSpace: "pre" }}>
            {"Fig .8.  Regulatory response of hybrid three tank system with ANNC (a)"}
          </text>
          <text x={577} y={2495} textLength={769} lengthAdjust="spacingAndGlyphs">
            disturbance, (b) Level in Tank 1, (c) Level in tank 2 (d) Manipulating
          </text>
          <text x={575} y={2530}>variables</text>
        </g>
      </svg>

      <Paragraph lines={para1} left={146} width={855} base={413} />
      <Paragraph lines={para2} left={1046} width={856} base={1612} />

      {/* Fig. 7 */}
      <Panel L={280} R={967} T={733} B={872} data={pair(h1True, h1Est)} series={trueEst}
        yDomain={levelDomain} yTicks={levelTicks} xTicks={sampleTicks} font={33} xGap={19}
        legend={{ left: 519, top: 816, width: 449, height: 57, font: 33, items: t7 }} />
      <Panel L={281} R={969} T={976} B={1117} data={pair(h2True, h2Est)} series={trueEst}
        yDomain={levelDomain} yTicks={levelTicks} xTicks={sampleTicks} font={33} xGap={17}
        legend={{ left: 521, top: 1061, width: 449, height: 57, font: 33, items: t7 }} />
      <Panel L={277} R={965} T={1207} B={1349} data={pair(h3True, h3Est)} series={trueEst}
        yDomain={levelDomain} yTicks={levelTicks} xTicks={sampleTicks} font={33} xGap={17}
        legend={{ left: 516, top: 1294, width: 450, height: 56, font: 33, items: t7 }} />

      {/* Fig. 8 */}
      <Panel L={277} R={973} T={1584} B={1699}
        data={disturbance.map((v, i) => ({ k: i + 1, d: v }))}
        series={[{ key: "d", name: "Disturbance", color: BLUE, width: 5 }]}
        yDomain={[0, 1.1]} yTicks={unitTicks} xTicks={sampleTicks} font={33} xGap={14} />
      <Panel L={282} R={975} T={1772} B={1906}
        data={h1Cv.map((v, i) => ({ k: i + 1, sp: setpoint, cv: v }))}
        series={spCv("C V(Proposed)")}
        yDomain={levelDomain} yTicks={levelTicks} xTicks={sampleTicks} font={33} xGap={14}
        legend={{ left: 485, top: 1856, width: 491, height: 51, font: 31, items: t8 }} />
      <Panel L={285} R={979} T={1976} B={2110}
        data={h2Cv.map((v, i) => ({ k: i + 1, sp: setpoint, cv: v }))}
        series={spCv("CV (Proposed)")}
        yDomain={levelDomain} yTicks={levelTicks} xTicks={sampleTicks} font={33} xGap={15}
        legend={{ left: 485, top: 2060, width: 495, height: 51, font: 31, items: [[17, 106, 115], [220, 304, 322]] }} />
      <Panel L={288} R={985} T={2189} B={2327}
        data={fin1.map((v, i) => ({ k: i + 1, f1: v, f2: fin2[i] }))}
        series={finSeries}
        yDomain={[-0.2, 1.2]} yTicks={unitTicks} xTicks={sampleTicks} font={33} xGap={16}
        legend={{ left: 660, top: 2189, width: 326, height: 59, font: 31, items: [[16, 104, 116], [172, 258, 274]] }} />

      {/* Fig. 9 */}
      <Panel L={1160} R={1459} T={801} B={1040} data={single(z1True)}
        series={[{ key: "z", name: "z1", color: RED, width: 1 }]}
        yDomain={zDomain} yTicks={zTicks} xTicks={zSampleTicks} font={31} xGap={11} grid="#c8c8c8" />
      <Panel L={1561} R={1861} T={801} B={1040} data={single(z2True)}
        series={[{ key: "z", name: "z2", color: RED, width: 1 }]}
        yDomain={zDomain} yTicks={zTicks} xTicks={zSampleTicks} font={31} xGap={11} grid="#c8c8c8" />
      <Panel L={1160} R={1459} T={1138} B={1377} data={single(z1Est)}
        series={[{ key: "z", name: "z1", color: BLUE, width: 1 }]}
        yDomain={zDomain} yTicks={zTicks} xTicks={zSampleTicks} font={31} xGap={11} grid="#c8c8c8" />
      <Panel L={1561} R={1861} T={1138} B={1377} data={single(z2Est)}
        series={[{ key: "z", name: "z2", color: BLUE, width: 1 }]}
        yDomain={zDomain} yTicks={zTicks} xTicks={zSampleTicks} font={31} xGap={11} grid="#c8c8c8" />
    </div>
  );
}
